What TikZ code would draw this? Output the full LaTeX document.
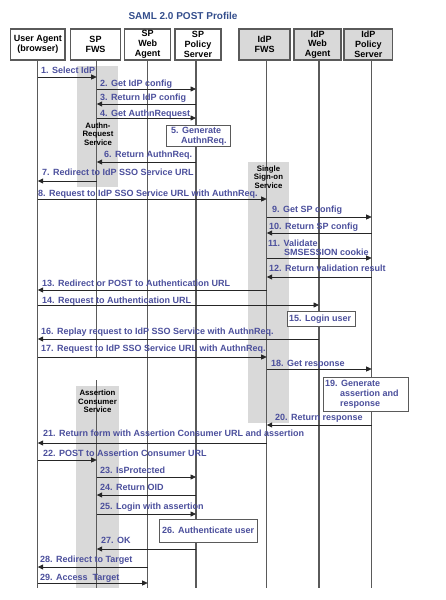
\documentclass[tikz,border=0pt]{standalone}
\usepackage{fontspec}
\setmainfont{Liberation Sans}
\usetikzlibrary{arrows.meta}
\definecolor{lblc}{HTML}{4B4F9C}
\definecolor{ttlc}{HTML}{344E8C}
\definecolor{barc}{HTML}{D9D9D9}
\definecolor{linec}{HTML}{5A5A5A}
\newcommand\seqmsg[7]{%
  \coordinate (r#1) at (0,#4);
  \draw[msg] (#2 |- r#1) -- (#3 |- r#1);
  \node[lbl] (t#1) at (#5,#6+3) {#7};
}
\begin{document}
\begin{tikzpicture}[x=1pt,y=-1pt,
  hdr/.style={draw=linec, line width=1.2pt, fill=white, inner sep=0pt, align=center,
    font=\bfseries\fontsize{9}{9.8}\selectfont},
  idphdr/.style={hdr, fill=barc},
  life/.style={draw=linec, line width=1.1pt},
  msg/.style={draw=black!85, line width=0.8pt, -{Triangle[length=5.5pt,width=5pt]}},
  lbl/.style={text=lblc, font=\bfseries\fontsize{9}{10}\selectfont, anchor=base west, inner sep=0pt},
  bartext/.style={font=\bfseries\fontsize{7.8}{8.4}\selectfont, align=center, inner sep=0pt},
  actbar/.style={fill=barc, draw=none, inner sep=0pt, anchor=north west},
  actbox/.style={draw=linec, fill=white, line width=0.9pt, inner sep=0pt, anchor=north west}]
\useasboundingbox (0,0) rectangle (446,600);

% title
\node[text=ttlc, font=\bfseries\fontsize{10}{12}\selectfont] (title) at (183,16) {SAML 2.0 POST Profile};

% activation bars
\node[actbar, minimum width=41, minimum height=121] (ars) at (77,66) {};
\node[actbar, minimum width=41, minimum height=261] (sso) at (248,162) {};
\node[actbar, minimum width=43, minimum height=202] (acs) at (76,386) {};

% header boxes
\node[hdr, minimum width=54.3, minimum height=31] (ua)  at (37.85,44.5) {User Agent\\(browser)};
\node[hdr, minimum width=49.6, minimum height=31] (spf) at (95.5,44.5) {SP\\FWS};
\node[hdr, minimum width=46, minimum height=31] (spw) at (147.7,44.5) {SP\\Web\\Agent};
\node[hdr, minimum width=46, minimum height=31] (spp) at (198,44.5) {SP\\Policy\\Server};
\node[idphdr, minimum width=51, minimum height=31] (idf) at (264.5,44.5) {IdP\\FWS};
\node[idphdr, minimum width=47, minimum height=31] (idw) at (317.5,44.5) {IdP\\Web\\Agent};
\node[idphdr, minimum width=48.5, minimum height=31] (idp) at (368.3,44.5) {IdP\\Policy\\Server};

% lifelines
\coordinate (Lua) at (37.7,60);
\coordinate (Lspf) at (96.7,60);
\coordinate (Lspw) at (147.7,60);
\coordinate (Lspp) at (196,60);
\coordinate (Lidf) at (266.7,60);
\coordinate (Lidw) at (319,60);
\coordinate (Lidp) at (371.7,60);
\coordinate (bot) at (0,588);
\coordinate (gapA) at (0,358);
\coordinate (gapB) at (0,380);
\draw[life] (Lua) -- (Lua |- bot);
\draw[life] (Lspf) -- (Lspf |- gapA);
\draw[life] (Lspf |- gapB) -- (Lspf |- bot);
\draw[life] (Lspw) -- (Lspw |- bot);
\draw[life] (Lspp) -- (Lspp |- bot);
\draw[life] (Lidf) -- (Lidf |- bot);
\draw[life] (Lidw) -- (Lidw |- bot);
\draw[life] (Lidp) -- (Lidp |- bot);

% bar texts
\node[bartext] (arstxt) at (98,134) {Authn-\\Request\\Service};
\node[bartext] (ssotxt) at (268.5,177) {Single\\Sign-on\\Service};
\node[bartext] (acstxt) at (97.5,401.5) {Assertion\\Consumer\\Service};

% messages
\seqmsg{1}{Lua}{Lspf}{77}{41}{70}{1. Select IdP}
\seqmsg{2}{Lspf}{Lspp}{89}{100}{83}{2. Get IdP config}
\seqmsg{3}{Lspp}{Lspf}{104}{100}{97}{3. Return IdP config}
\seqmsg{4}{Lspf}{Lspp}{118}{100}{113}{4. Get AuthnRequest}
\seqmsg{6}{Lspp}{Lspf}{162}{104}{154}{6. Return AuthnReq.}
\seqmsg{7}{Lspf}{Lua}{181}{42}{172}{7. Redirect to IdP SSO Service URL}
\seqmsg{8}{Lua}{Lidf}{199}{38}{193}{8. Request to IdP SSO Service URL with AuthnReq.}
\seqmsg{9}{Lidf}{Lidp}{217}{272}{209}{9. Get SP config}
\seqmsg{10}{Lidp}{Lidf}{233}{269}{226}{10. Return SP config}
\seqmsg{11}{Lidf}{Lidp}{258}{268}{243}{11. Validate}
\node[lbl] (t11b) at (284,255) {SMSESSION cookie};
\seqmsg{12}{Lidp}{Lidf}{277}{269}{268}{12. Return validation result}
\seqmsg{13}{Lidf}{Lua}{290}{42}{283}{13. Redirect or POST to Authentication URL}
\seqmsg{14}{Lua}{Lidw}{305}{42}{300}{14. Request to Authentication URL}
\seqmsg{16}{Lidw}{Lua}{339}{41}{331}{16. Replay request to IdP SSO Service with AuthnReq.}
\seqmsg{17}{Lua}{Lidf}{357}{41}{348}{17. Request to IdP SSO Service URL with AuthnReq.}
\seqmsg{18}{Lidf}{Lidp}{369}{271}{363}{18. Get response}
\seqmsg{20}{Lidp}{Lidf}{425}{275}{417}{20. Return response}
\seqmsg{21}{Lidf}{Lua}{443}{43}{433}{21. Return form with Assertion Consumer URL and assertion}
\seqmsg{22}{Lua}{Lspf}{460}{43}{453}{22. POST to Assertion Consumer URL}
\seqmsg{23}{Lspf}{Lspp}{477}{100}{470}{23. IsProtected}
\seqmsg{24}{Lspp}{Lspf}{495}{100}{487}{24. Return OID}
\seqmsg{25}{Lspf}{Lspp}{514}{100}{506}{25. Login with assertion}
\seqmsg{27}{Lspp}{Lspf}{549}{101}{540}{27. OK}
\seqmsg{28}{Lspw}{Lua}{567}{40}{559}{28. Redirect to Target}
\seqmsg{29}{Lua}{Lspw}{583}{40}{577}{29. Access\ \ Target}

% self-action boxes
\node[actbox, minimum width=64, minimum height=21] (b5) at (166,125) {};
\node[lbl] (b5a) at (171,133.5) {5. Generate};
\node[lbl] (b5b) at (181,143) {AuthnReq.};
\node[actbox, minimum width=68, minimum height=15] (b15) at (287,311) {};
\node[lbl] (b15a) at (289,321) {15. Login user};
\node[actbox, minimum width=85, minimum height=34] (b19) at (323,377) {};
\node[lbl] (b19a) at (325,386.5) {19. Generate};
\node[lbl] (b19b) at (340,396.5) {assertion and};
\node[lbl] (b19c) at (340,406.5) {response};
\node[actbox, minimum width=98, minimum height=23] (b26) at (159,519) {};
\node[lbl] (b26a) at (162,533.5) {26. Authenticate user};
\end{tikzpicture}
\end{document}
